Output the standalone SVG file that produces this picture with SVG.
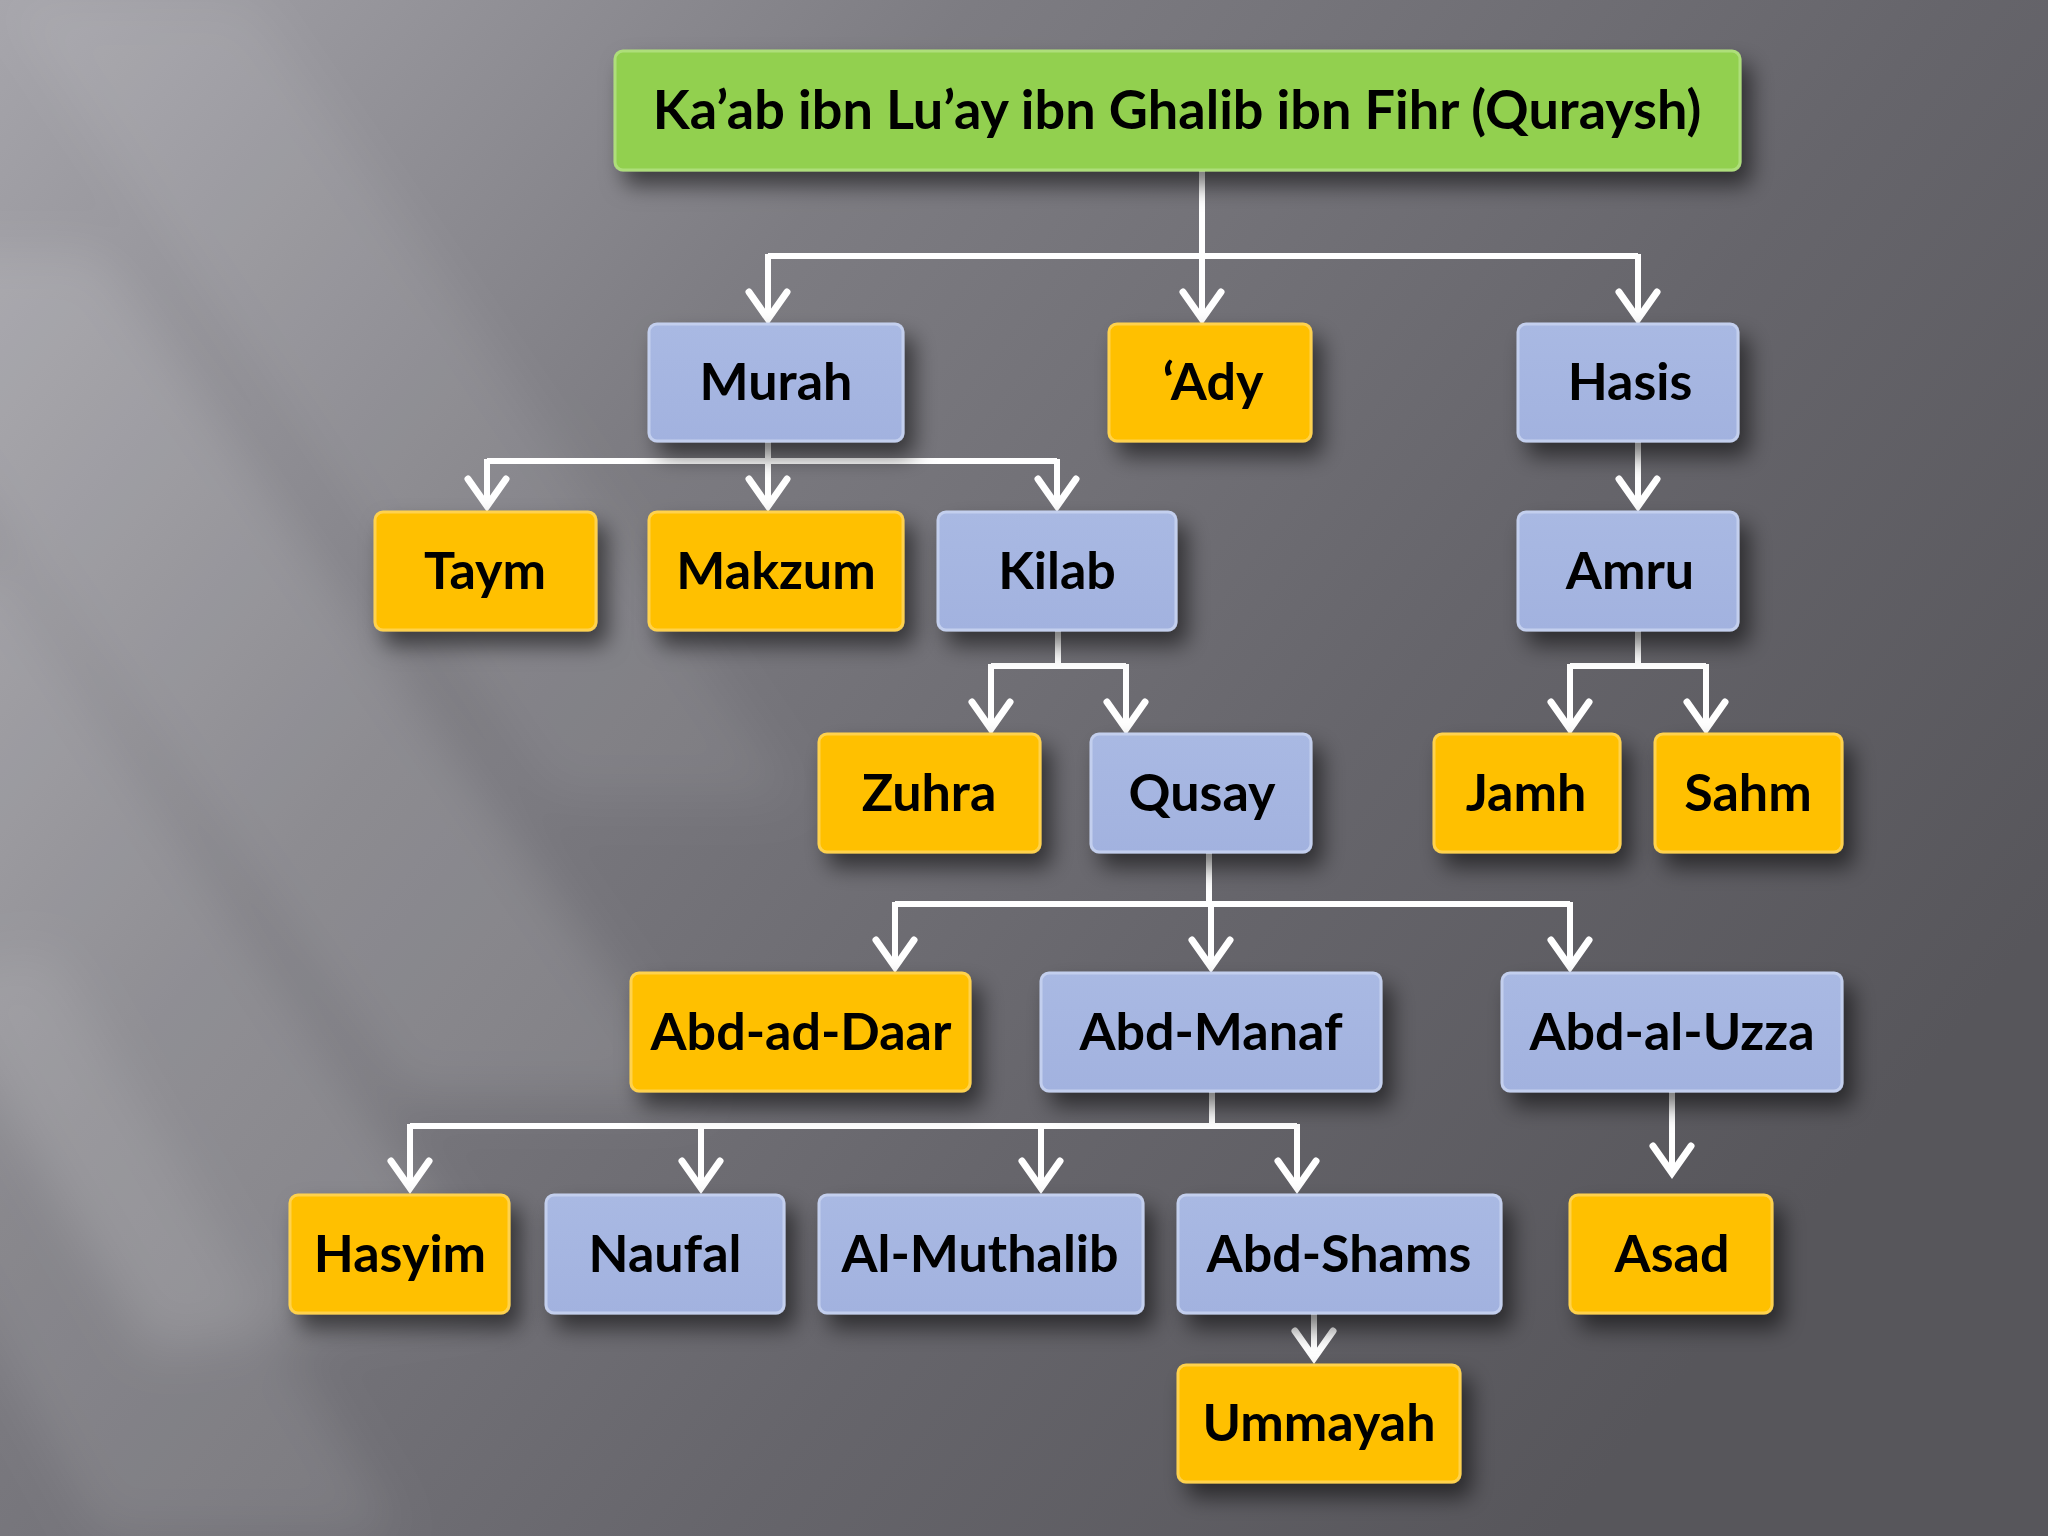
<svg xmlns="http://www.w3.org/2000/svg" width="2048" height="1536" viewBox="0 0 2048 1536">
<defs>
<linearGradient id="bg" x1="0" y1="0" x2="1" y2="0.6">
<stop offset="0" stop-color="#a6a5ab"/>
<stop offset="0.35" stop-color="#7d7c82"/>
<stop offset="0.7" stop-color="#66656b"/>
<stop offset="1" stop-color="#57565b"/>
</linearGradient>
<filter id="blur" x="-50%" y="-50%" width="200%" height="200%"><feGaussianBlur stdDeviation="25"/></filter>
<filter id="shadow" x="-20%" y="-20%" width="150%" height="160%">
<feDropShadow dx="10" dy="14" stdDeviation="11" flood-color="#000" flood-opacity="0.55"/>
</filter>
<marker id="arr" markerUnits="userSpaceOnUse" markerWidth="80" markerHeight="80" viewBox="-40 -40 80 80" refX="0" refY="0" orient="auto" overflow="visible">
<path d="M-29,-19 L-2,0 L-29,19" fill="none" stroke="#ffffff" stroke-width="7" stroke-linecap="round" stroke-linejoin="miter"/>
</marker>
<linearGradient id="gBlue" x1="0" y1="0" x2="0" y2="1">
<stop offset="0" stop-color="#a9b9e3"/>
<stop offset="1" stop-color="#a2b2df"/>
</linearGradient>
</defs>
<style>
.node rect{stroke-width:3;}
.blue rect{fill:url(#gBlue);stroke:#c3cfee;}
.yellow rect{fill:#ffc000;stroke:#ffd24d;}
.green rect{fill:#92d050;stroke:#aede7a;}
.node text{font-family:"Lato","Open Sans","Liberation Sans",sans-serif;font-weight:700;font-size:52px;fill:#000;text-anchor:middle;}
.green text{font-size:54px;}
.conn path{fill:none;stroke:#ffffff;stroke-width:6;}
.conn path.a{marker-end:url(#arr);}
</style>
<rect x="0" y="0" width="2048" height="1536" fill="url(#bg)"/>
<g filter="url(#blur)">
<polygon points="-200,250 100,250 700,1100 400,1100" fill="#ffffff" opacity="0.12"/>
<polygon points="-300,600 0,560 500,1300 150,1350" fill="#ffffff" opacity="0.14"/>
<polygon points="0,0 250,0 800,800 550,800" fill="#ffffff" opacity="0.07"/>
<polygon points="-200,1000 50,950 400,1536 100,1536" fill="#ffffff" opacity="0.09"/>
</g>

<g class="conn" id="connectors">
<path d="M1202,170 V256"/>
<path d="M768,256 H1638"/>
<path class="a" d="M768,254 V321"/>
<path class="a" d="M1202,256 V321"/>
<path class="a" d="M1638,254 V321"/>
<path d="M768,441 V461"/>
<path d="M487,461 H1057"/>
<path class="a" d="M487,459 V508"/>
<path class="a" d="M768,461 V508"/>
<path class="a" d="M1057,459 V508"/>
<path class="a" d="M1638,441 V508"/>
<path d="M1058,630 V666"/>
<path d="M991,666 H1126"/>
<path class="a" d="M991,664 V731"/>
<path class="a" d="M1126,664 V731"/>
<path d="M1638,630 V666"/>
<path d="M1570,666 H1706"/>
<path class="a" d="M1570,664 V731"/>
<path class="a" d="M1706,664 V731"/>
<path d="M1209,852 V904"/>
<path d="M895,904 H1570"/>
<path class="a" d="M895,902 V969"/>
<path class="a" d="M1211,904 V969"/>
<path class="a" d="M1570,902 V969"/>
<path d="M1212,1091 V1126"/>
<path d="M410,1126 H1297"/>
<path class="a" d="M410,1124 V1190"/>
<path class="a" d="M701,1126 V1190"/>
<path class="a" d="M1041,1126 V1190"/>
<path class="a" d="M1297,1124 V1190"/>
<path class="a" d="M1672,1091 V1175"/>
<path class="a" d="M1314,1313 V1360"/>
</g>

<g id="n-quraysh" class="node green" filter="url(#shadow)"><rect x="615" y="51" width="1125" height="119" rx="8"/><text x="1177" y="129">Ka’ab ibn Lu’ay ibn Ghalib ibn Fihr (Quraysh)</text></g>
<g id="n-murah" class="node blue" filter="url(#shadow)"><rect x="649" y="324" width="254" height="117" rx="8"/><text x="776" y="400">Murah</text></g>
<g id="n-ady" class="node yellow" filter="url(#shadow)"><rect x="1109" y="324" width="202" height="117" rx="8"/><text x="1213" y="400">‘Ady</text></g>
<g id="n-hasis" class="node blue" filter="url(#shadow)"><rect x="1518" y="324" width="220" height="117" rx="8"/><text x="1630" y="400">Hasis</text></g>
<g id="n-taym" class="node yellow" filter="url(#shadow)"><rect x="375" y="512" width="221" height="118" rx="8"/><text x="485" y="589">Taym</text></g>
<g id="n-makzum" class="node yellow" filter="url(#shadow)"><rect x="649" y="512" width="254" height="118" rx="8"/><text x="776" y="589">Makzum</text></g>
<g id="n-kilab" class="node blue" filter="url(#shadow)"><rect x="938" y="512" width="238" height="118" rx="8"/><text x="1057" y="589">Kilab</text></g>
<g id="n-amru" class="node blue" filter="url(#shadow)"><rect x="1518" y="512" width="220" height="118" rx="8"/><text x="1630" y="589">Amru</text></g>
<g id="n-zuhra" class="node yellow" filter="url(#shadow)"><rect x="819" y="734" width="221" height="118" rx="8"/><text x="929" y="811">Zuhra</text></g>
<g id="n-qusay" class="node blue" filter="url(#shadow)"><rect x="1091" y="734" width="220" height="118" rx="8"/><text x="1202" y="811">Qusay</text></g>
<g id="n-jamh" class="node yellow" filter="url(#shadow)"><rect x="1434" y="734" width="186" height="118" rx="8"/><text x="1526" y="811">Jamh</text></g>
<g id="n-sahm" class="node yellow" filter="url(#shadow)"><rect x="1655" y="734" width="187" height="118" rx="8"/><text x="1748" y="811">Sahm</text></g>
<g id="n-abd-ad-daar" class="node yellow" filter="url(#shadow)"><rect x="631" y="973" width="339" height="118" rx="8"/><text x="801" y="1050">Abd-ad-Daar</text></g>
<g id="n-abd-manaf" class="node blue" filter="url(#shadow)"><rect x="1041" y="973" width="340" height="118" rx="8"/><text x="1211" y="1050">Abd-Manaf</text></g>
<g id="n-abd-al-uzza" class="node blue" filter="url(#shadow)"><rect x="1502" y="973" width="340" height="118" rx="8"/><text x="1672" y="1050">Abd-al-Uzza</text></g>
<g id="n-hasyim" class="node yellow" filter="url(#shadow)"><rect x="290" y="1195" width="219" height="118" rx="8"/><text x="400" y="1272">Hasyim</text></g>
<g id="n-naufal" class="node blue" filter="url(#shadow)"><rect x="546" y="1195" width="238" height="118" rx="8"/><text x="665" y="1272">Naufal</text></g>
<g id="n-al-muthalib" class="node blue" filter="url(#shadow)"><rect x="819" y="1195" width="324" height="118" rx="8"/><text x="980" y="1272">Al-Muthalib</text></g>
<g id="n-abd-shams" class="node blue" filter="url(#shadow)"><rect x="1178" y="1195" width="323" height="118" rx="8"/><text x="1339" y="1272">Abd-Shams</text></g>
<g id="n-asad" class="node yellow" filter="url(#shadow)"><rect x="1570" y="1195" width="202" height="118" rx="8"/><text x="1672" y="1272">Asad</text></g>
<g id="n-ummayah" class="node yellow" filter="url(#shadow)"><rect x="1178" y="1365" width="282" height="117" rx="8"/><text x="1319" y="1441">Ummayah</text></g>
</svg>
